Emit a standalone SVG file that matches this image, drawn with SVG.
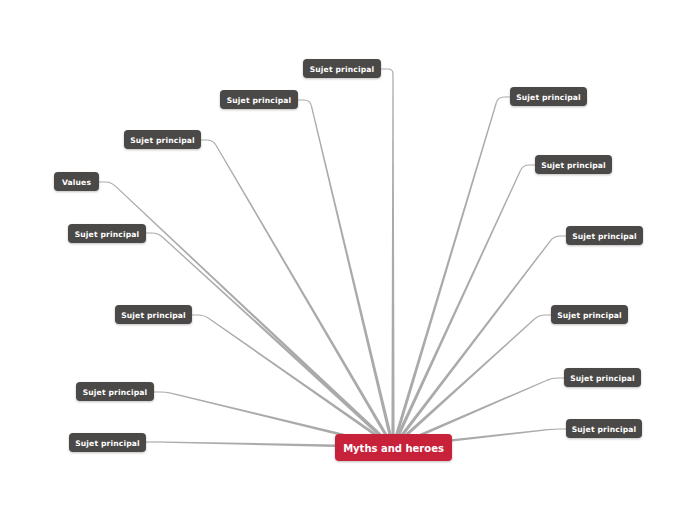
<svg xmlns="http://www.w3.org/2000/svg" width="697" height="520" viewBox="0 0 697 520">
<defs>
<filter id="sh" x="-20%" y="-30%" width="140%" height="170%">
<feDropShadow dx="0" dy="1" stdDeviation="1" flood-color="#000" flood-opacity="0.25"/>
</filter>
<style>
.n rect{fill:#4b4846;filter:url(#sh)}
.n text{fill:#fff;font-family:"DejaVu Sans",Verdana,sans-serif;font-weight:bold;font-size:7.6px;letter-spacing:0.15px;text-anchor:middle}
.c path{fill:none;stroke:#aaaaaa;stroke-width:1.2}
.c polygon{fill:#aaaaaa}
#root rect{fill:#c8203a;filter:url(#sh)}
#root text{fill:#fff;font-family:"DejaVu Sans",Verdana,sans-serif;font-weight:bold;font-size:10px;text-anchor:middle}
</style>
</defs>
<rect width="697" height="520" fill="#fff"/>
<g id="connectors" class="c">
<path d="M381,69 H388 Q393,69 393,74"/>
<polygon points="392.4,74 391.4,447 394.6,447 393.6,74"/>
<path d="M298,100 H304 Q310,100 311.4,105.8"/>
<polygon points="310.8,105.9 391.4,447.4 394.6,446.6 312.0,105.7"/>
<path d="M201,140 H207 Q213,140 216,145.2"/>
<polygon points="215.5,145.5 391.6,447.8 394.4,446.2 216.5,144.9"/>
<path d="M99,182 H105 Q111,182 115.4,186.1"/>
<polygon points="115.0,186.5 391.9,448.2 394.1,445.8 115.8,185.7"/>
<path d="M146,233 H152 Q158,233 162.4,237"/>
<polygon points="162.0,237.4 391.9,448.2 394.1,445.8 162.8,236.6"/>
<path d="M192,315 H198 Q204,315 208.9,318.4"/>
<polygon points="208.6,318.9 392.1,448.3 393.9,445.7 209.2,317.9"/>
<path d="M154,392 H160 Q166,392 171.8,393.4"/>
<polygon points="171.7,394.0 392.6,448.6 393.4,445.4 171.9,392.8"/>
<path d="M146,442 H164"/>
<polygon points="164,442.7 393,448.6 393,445.4 164,441.5"/>
<path d="M510,97 H504 Q498,97 496.3,102.7"/>
<polygon points="495.7,102.5 391.5,446.5 394.5,447.5 496.9,102.9"/>
<path d="M535,165 H529 Q523,165 520.5,170.4"/>
<polygon points="520.0,170.1 391.5,446.3 394.5,447.7 521.0,170.7"/>
<path d="M566,236 H560 Q554,236 550.4,240.8"/>
<polygon points="549.9,240.4 391.7,446.0 394.3,448.0 550.9,241.2"/>
<path d="M551,315 H545 Q539,315 534.5,319"/>
<polygon points="534.1,318.6 391.9,445.8 394.1,448.2 534.9,319.4"/>
<path d="M564,378 H558 Q552,378 546.5,380.4"/>
<polygon points="546.3,379.9 392.4,445.5 393.6,448.5 546.7,380.9"/>
<path d="M566,429 H560 Q554,429 548,429.7"/>
<polygon points="547.9,429.1 392.8,445.4 393.2,448.6 548.1,430.3"/>
</g>
<g id="root"><rect x="335" y="434" width="117" height="27" rx="4"/><text x="393.5" y="451.5">Myths and heroes</text></g>
<g id="n1" class="n"><rect x="303" y="59" width="78" height="19" rx="4"/><text x="342" y="71.5">Sujet principal</text></g>
<g id="n2" class="n"><rect x="220" y="90" width="78" height="19" rx="4"/><text x="259" y="102.5">Sujet principal</text></g>
<g id="n3" class="n"><rect x="124" y="130" width="77" height="19" rx="4"/><text x="162.5" y="142.5">Sujet principal</text></g>
<g id="n4" class="n"><rect x="54" y="172" width="45" height="19" rx="4"/><text x="76.5" y="184.5">Values</text></g>
<g id="n5" class="n"><rect x="68" y="224" width="78" height="19" rx="4"/><text x="107" y="236.5">Sujet principal</text></g>
<g id="n6" class="n"><rect x="115" y="305" width="77" height="19" rx="4"/><text x="153.5" y="317.5">Sujet principal</text></g>
<g id="n7" class="n"><rect x="76" y="382" width="78" height="19" rx="4"/><text x="115" y="394.5">Sujet principal</text></g>
<g id="n8" class="n"><rect x="69" y="433" width="77" height="19" rx="4"/><text x="107.5" y="445.5">Sujet principal</text></g>
<g id="n9" class="n"><rect x="510" y="87" width="77" height="19" rx="4"/><text x="548.5" y="99.5">Sujet principal</text></g>
<g id="n10" class="n"><rect x="535" y="155" width="77" height="19" rx="4"/><text x="573.5" y="167.5">Sujet principal</text></g>
<g id="n11" class="n"><rect x="566" y="226" width="77" height="19" rx="4"/><text x="604.5" y="238.5">Sujet principal</text></g>
<g id="n12" class="n"><rect x="551" y="305" width="77" height="19" rx="4"/><text x="589.5" y="317.5">Sujet principal</text></g>
<g id="n13" class="n"><rect x="564" y="368" width="77" height="19" rx="4"/><text x="602.5" y="380.5">Sujet principal</text></g>
<g id="n14" class="n"><rect x="566" y="419" width="76" height="19" rx="4"/><text x="604" y="431.5">Sujet principal</text></g>
</svg>
